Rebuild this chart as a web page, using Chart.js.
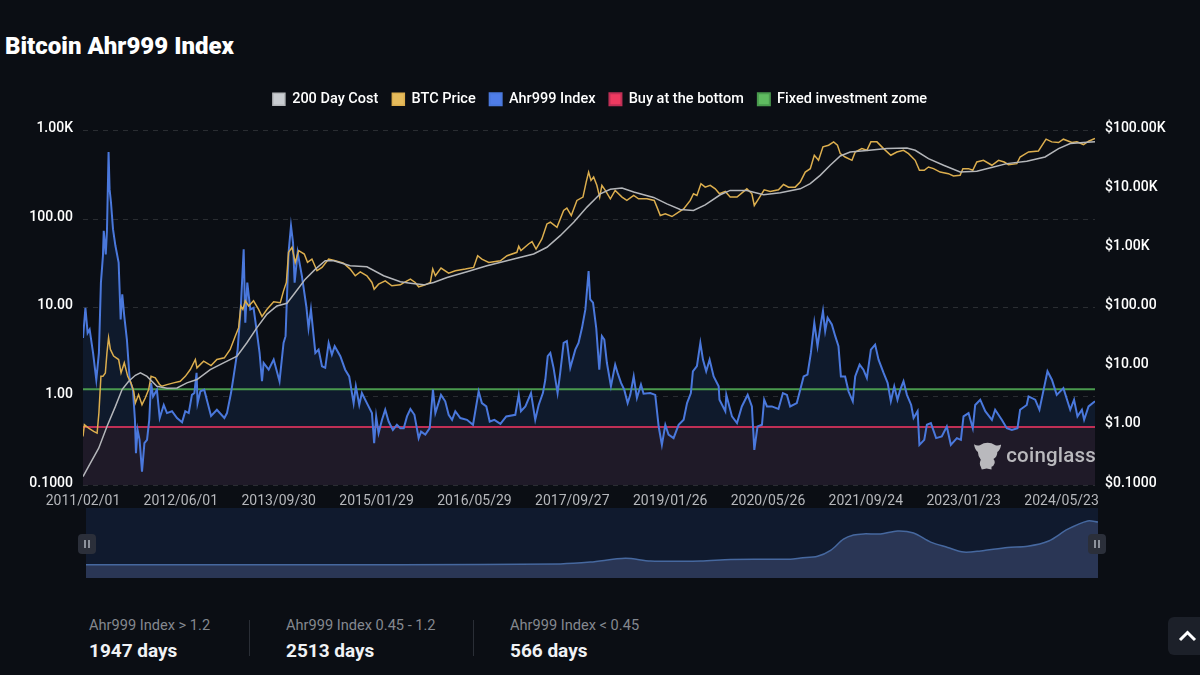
<!DOCTYPE html>
<html>
<head>
<meta charset="utf-8">
<title>Bitcoin Ahr999 Index</title>
<script src="https://cdn.jsdelivr.net/npm/chart.js@4/dist/chart.umd.min.js"></script>
<style>
    html, body { margin: 0; padding: 0; background: #0b0e14; }
    body { position: relative; width: 1200px; height: 675px; overflow: hidden; font-family: Roboto, sans-serif; color: #fff; }
    h1 { position: absolute; left: 5px; top: 32px; margin: 0; font-size: 24px; line-height: 28px; font-weight: 900; }
    #mainWrap { position: absolute; left: 0; top: 0; width: 1200px; height: 510px; }
    #navBack { position: absolute; left: 86px; top: 508px; width: 1012px; height: 70px; background: #101a2e; }
    #navWrap { position: absolute; left: 0; top: 0; width: 1012px; height: 70px; }
    .handle { position: absolute; top: 534px; width: 18px; height: 20px; background: #2b2f3a; border-radius: 4px; }
    .handle:before { content: ''; position: absolute; left: 6px; top: 6px; width: 2px; height: 8px; background: #8d929c; box-shadow: 4px 0 0 #8d929c; }
    .stat { position: absolute; top: 616px; }
    .stat .name { font-size: 14.6px; line-height: 18px; color: #84888f; }
    .stat .val { font-size: 19px; line-height: 24px; font-weight: 700; margin-top: 5px; color: #f0f2f5; }
    .sep { position: absolute; top: 620px; width: 1px; height: 36px; background: #2a2e36; }
    #toTop { position: absolute; left: 1168px; top: 617px; width: 32px; height: 38px; background: #1c2029; border-radius: 6px 0 0 6px; }
    #mark { position: absolute; left: 974px; top: 439px; width: 122px; height: 32px; display: flex; align-items: center; pointer-events: none; }
    #mark span { font-size: 20.5px; font-weight: 500; color: #b9b9bd; margin-left: 5px; letter-spacing: 0.2px; }
</style>
</head>
<body>
<h1>Bitcoin Ahr999 Index</h1>
<div id="mainWrap"><canvas id="mainChart"></canvas></div>
<div id="mark">
    <svg width="28" height="31" viewBox="0 0 28 31"><path fill="#b9b9bd" d="M0 4 Q3 6 6 5 Q14 0 22 5 Q25 6 28 4 Q27 10 24 12 Q24 17 20 19 Q22 21 21 24 Q20 27 18 27 L18 30 L13 29 L8 30 L7 27 Q5 24 7 20 Q4 16 4 12 Q1 10 0 4 Z"/></svg>
    <span>coinglass</span>
</div>
<div id="navBack"><div id="navWrap"><canvas id="navChart"></canvas></div></div>
<div class="handle" style="left:78px"></div>
<div class="handle" style="left:1088px"></div>
<div class="stat" style="left:89px"><div class="name">Ahr999 Index &gt; 1.2</div><div class="val">1947 days</div></div>
<div class="sep" style="left:249px"></div>
<div class="stat" style="left:286px"><div class="name">Ahr999 Index 0.45 - 1.2</div><div class="val">2513 days</div></div>
<div class="sep" style="left:473px"></div>
<div class="stat" style="left:510px"><div class="name">Ahr999 Index &lt; 0.45</div><div class="val">566 days</div></div>
<div id="toTop"><svg width="32" height="38" viewBox="0 0 32 38"><path d="M12 23 L19.5 15.5 L27 23" fill="none" stroke="#fff" stroke-width="3"/></svg></div>

<script>
// x positions are days since 2011/02/01
const tickDays = [0, 486, 972, 1458, 1944, 2430, 2916, 3402, 3888, 4374, 4860];
const tickLabels = ['2011/02/01', '2012/06/01', '2013/09/30', '2015/01/29', '2016/05/29', '2017/09/27', '2019/01/26', '2020/05/26', '2021/09/24', '2023/01/23', '2024/05/23'];
const indexTicks = [0.1, 1, 10, 100, 1000];
const priceTicks = [0.1, 1, 10, 100, 1000, 10000, 100000];

const indexDays = [0,12,23,33,50,66,79,89,99,103,113,119,127,132,139,149,161,177,187,195,205,218,232,248,258,263,271,281,293,305,318,329,338,348,367,381,401,417,442,467,492,508,525,541,553,564,569,583,602,636,665,702,715,735,748,768,784,798,806,816,831,847,864,877,889,897,922,947,976,996,1006,1021,1033,1043,1051,1066,1087,1109,1120,1132,1154,1170,1187,1203,1220,1236,1250,1278,1302,1322,1344,1355,1372,1385,1410,1435,1446,1456,1468,1485,1501,1518,1539,1559,
    1576,1593,1609,1626,1646,1667,1679,1700,1722,1738,1750,1778,1799,1816,1833,1849,1874,1907,1937,1965,1981,2003,2020,2043,2073,2102,2147,2164,2175,2197,2225,2246,2263,2284,2296,2308,2321,2337,2357,2370,2387,2403,2420,2445,2461,2478,2495,2511,2519,2533,2549,2564,2577,2589,2602,2622,2643,2655,2672,2688,2705,2718,2735,2751,2771,2784,2817,2842,2859,2875,2892,2908,2933,2958,2983,3000,3019,3029,3049,3066,3079,3095,3112,3132,3157,3161,3190,3195,3223,3248,3272,3301,3322,3334,3350,3372,3383,3397,3421,3454,3476,3496,3512,3545,
    3562,3579,3598,3615,3632,3648,3665,3675,3686,3698,3719,3736,3752,3764,3785,3802,3823,3835,3857,3876,3893,3913,3934,3951,3976,3996,4012,4029,4045,4059,4075,4092,4113,4125,4145,4154,4178,4191,4211,4237,4265,4290,4310,4340,4360,4373,4398,4419,4431,4456,4481,4514,4530,4563,4588,4613,4641,4654,4687,4696,4729,4750,4778,4790,4812,4836,4869,4903,4922,4939,4961,4972,4994,5026];
const indexValues = [4.57,10,5.2,5.69,3.09,1.54,3.09,19.2,38.5,73.9,40,73.9,570,218,154,77,50,32.4,7.38,14.2,8.05,4.38,1.54,1.19,0.544,0.228,0.419,0.323,0.141,0.296,0.323,0.544,1.42,1,1.19,0.57,0.8,0.648,0.68,0.57,0.51,0.68,0.648,1.04,1.09,1.84,0.84,1.14,1.19,0.6,0.706,0.57,0.648,1.09,1.68,3.37,10.4,45.8,6.76,19.2,9.58,10,5.2,3.09,1.48,2.38,2,2.6,1.48,4.01,4.78,42,84,54.5,19.2,42,22.9,10.4,5.9,9.58,3.09,3.37,2.19,2.1,4.01,2.96,3.68,2.84,2,1.68,0.84,1.3,0.8,1.09,0.84,0.648,0.296,0.594,0.385,0.544,0.706,0.52,0.419,0.478,
    0.438,0.438,0.594,0.72,0.62,0.338,0.4,0.37,0.438,1.19,0.648,1.04,0.88,0.62,0.544,0.68,0.57,0.544,0.478,1.14,0.84,0.77,0.52,0.544,0.49,0.594,0.62,1.04,0.68,0.77,1.09,0.544,0.8,1.09,1.54,2.84,3.09,2.1,1.09,1.84,4.01,4.2,2.1,3.37,4.01,5.9,9.58,26,12.4,11.4,5.9,2,4.78,4.38,2.38,1.3,2.28,1.84,1.42,1.19,0.84,1.04,1.68,0.96,1.36,1.07,1.09,1.04,0.457,0.284,0.478,0.37,0.338,0.478,0.544,0.84,1.09,1.92,2.19,4.01,2.6,1.92,2.6,1.68,1.3,0.917,0.68,1.04,0.594,0.5,0.77,1.04,0.77,0.249,0.457,0.478,0.917,0.77,0.77,0.72,1.09,1.04,0.77,0.84,
    1.19,1.68,1.76,3.09,6.76,3.68,6.76,9.2,5.45,7.7,6.47,4.78,3.68,1.68,1.68,1.14,0.88,1.68,2.28,2,1.61,3.37,3.84,2.6,1.84,1.42,0.88,1.3,0.917,1.19,1.48,1.04,0.8,0.57,0.68,0.284,0.323,0.478,0.5,0.338,0.353,0.457,0.284,0.338,0.323,0.594,0.648,0.438,0.8,0.917,0.68,0.544,0.706,0.544,0.438,0.419,0.438,0.706,0.8,1,0.917,0.706,1.42,1.92,1.54,1.04,1.24,0.706,0.917,0.594,0.706,0.544,0.77,0.88];

const priceDays = [0,7,28,53,70,79,89,99,111,119,127,136,152,177,189,205,222,238,252,260,276,293,309,326,338,359,381,392,417,450,483,508,533,558,566,599,636,665,702,731,756,773,784,794,806,823,847,872,889,914,947,980,996,1010,1021,1038,1054,1071,1099,1115,1137,1162,1187,1220,1253,1294,1327,1352,1377,1410,1435,1446,1468,1501,1534,1576,
    1596,1626,1650,1667,1700,1725,1737,1750,1778,1816,1849,1899,1940,1960,1981,2015,2073,2106,2155,2164,2175,2213,2230,2250,2279,2304,2321,2354,2387,2403,2425,2453,2483,2499,2511,2523,2536,2552,2566,2577,2594,2619,2643,2677,2701,2735,2759,2801,2837,2854,2867,2892,2925,2958,2983,3016,3032,3049,3069,3090,3115,3140,3161,3190,3214,3248,3297,3322,3334,3355,3383,3413,3454,3479,3504,3537,3562,
    3587,3612,3632,3653,3675,3703,3728,3747,3761,3785,3819,3835,3868,3893,3913,3943,3976,4012,4042,4075,4100,4133,4154,4178,4199,4224,4257,4298,4323,4356,4370,4398,4419,4439,4472,4514,4547,4575,4596,4638,4654,4696,4745,4783,4811,4845,4869,4911,4936,4969,4994,5026];
const priceValues = [0.664,1.05,0.92,0.81,0.756,1.65,6.9,6.9,7.9,17.3,31,19.7,15.2,13.3,7.9,11.7,6.9,5.35,3.85,2.44,3.39,2.29,2.97,4.12,6.9,6.5,5,4.69,5,5.35,5.7,6.9,9,13.3,9.6,12.5,10.5,13.3,14.2,19.7,33,46,107,94,131,107,131,94,71,94,126,122,193,268,867,1055,586,925,811,586,667,423,482,667,625,570,451,348,406,348,268,206,251,286,235,244,
    268,305,268,226,244,268,451,348,469,385,423,451,482,760,667,586,625,760,867,1096,925,1200,1315,986,1460,2620,2800,2300,4430,4850,3640,6550,7470,13400,19800,14300,16300,11800,7470,11800,9680,6980,9680,7470,6550,7960,6980,6980,6550,4720,3640,3880,3500,4150,4720,6550,8490,7960,12600,11000,11800,10300,8490,9310,7470,7470,10300,8490,5380,6980,9930,9310,9930,12200,11000,11000,13400,
    19800,22600,38100,31300,52800,56300,64200,56300,40600,35600,31300,43300,49400,46300,64200,64200,49400,38100,43300,46300,40600,31300,21200,21200,24100,22600,19800,18600,17000,17400,22600,22600,21200,29300,31300,25800,31300,29300,26400,27500,35600,43300,45100,71300,64200,62500,71300,62500,64200,57800,65900,73100];

const costDays = [0,36,78,119,161,194,227,260,285,318,367,417,467,516,566,632,698,765,814,864,914,963,1013,1054,1104,1154,1203,1245,1327,1410,1493,1576,1626,1692,1741,1808,1907,2006,2139,2238,2304,2370,2437,2503,2569,2619,2677,2735,2834,2900,2966,3032,3090,3165,3214,3297,3380,3463,3562,3612,3661,3711,3761,3810,3893,3992,4092,4133,4199,4274,4356,4439,4522,4588,4687,4778,4845,4903,4969,5026];
const costValues = [0.139,0.233,0.42,0.98,2.14,4.12,5.7,7.2,7.9,6.9,4.69,4.33,4.4,5.35,6.1,9,11.7,15.2,25.6,46,78,107,119,181,305,451,625,625,514,494,348,275,261,244,268,326,406,514,667,811,1055,1660,2800,5050,8490,10100,10600,9080,7360,5740,4600,4430,5520,8170,9680,9680,8170,8830,10300,12600,17400,25800,37100,43300,45700,49400,50700,46300,33400,25800,19800,20400,24100,27500,30100,35600,49400,60100,62500,64200];

const navDays = [0,1560,2356,2505,2679,2803,3052,3201,3499,3549,3633,3698,3762,3812,3862,3946,4031,4110,4195,4279,4359,4443,4577,4677,4781,4876,4975,5026];
const navValues = [500,600,2000,5000,11500,7000,7000,9500,10000,12000,15000,25000,44000,51000,53000,53000,58000,54500,39000,30000,22000,24000,30000,32000,41000,61000,75000,73000];

const buyLevel = 0.45;
const fixedLevel = 1.2;
const lastDay = 5026;

function toPoints(days, values) {
    return days.map(function (d, i) { return { x: d, y: values[i] }; });
}

function fmtAxis(v) {
    if (v >= 1000) return (v / 1000).toFixed(2) + 'K';
    if (v < 1) return v.toFixed(4);
    return v.toFixed(2);
}

// Extra room between the legend and the plot
const legendGap = {
    id: 'legendGap',
    beforeInit: function (chart) {
        const fit = chart.legend.fit;
        chart.legend.fit = function () {
            fit.call(this);
            this.height += 14;
        };
    }
};

const mainCtx = document.getElementById('mainChart');
new Chart(mainCtx, {
    type: 'line',
    plugins: [legendGap],
    data: {
        datasets: [
            {
                label: '200 Day Cost',
                data: toPoints(costDays, costValues),
                yAxisID: 'yPrice',
                borderColor: '#b4b6ba',
                backgroundColor: '#c9ccd1',
                borderWidth: 1.5,
                pointRadius: 0,
                fill: false
            },
            {
                label: 'BTC Price',
                data: toPoints(priceDays, priceValues),
                yAxisID: 'yPrice',
                borderColor: '#dcae4e',
                backgroundColor: '#e6bb5c',
                borderWidth: 1.5,
                pointRadius: 0,
                fill: false
            },
            {
                label: 'Ahr999 Index',
                data: toPoints(indexDays, indexValues),
                yAxisID: 'yIndex',
                borderColor: '#4a78dc',
                backgroundColor: '#4f7de8',
                borderWidth: 2,
                pointRadius: 0,
                fill: { target: { value: buyLevel }, above: '#0f1a2c', below: 'rgba(0,0,0,0)' }
            },
            {
                label: 'Buy at the bottom',
                data: [{ x: 0, y: buyLevel }, { x: lastDay, y: buyLevel }],
                yAxisID: 'yIndex',
                borderColor: '#bf2f55',
                backgroundColor: '#ee3a60',
                borderWidth: 2,
                pointRadius: 0,
                fill: { target: 'start', above: '#1f1a28', below: '#1f1a28' }
            },
            {
                label: 'Fixed investment zome',
                data: [{ x: 0, y: fixedLevel }, { x: lastDay, y: fixedLevel }],
                yAxisID: 'yIndex',
                borderColor: '#4a9a4e',
                backgroundColor: '#5fbb60',
                borderWidth: 2,
                pointRadius: 0,
                fill: false
            }
        ]
    },
    options: {
        responsive: true,
        maintainAspectRatio: false,
        animation: false,
        layout: { padding: { top: 78, left: 0, right: 0, bottom: 0 } },
        plugins: {
            filler: { drawTime: 'beforeDatasetsDraw' },
            tooltip: { enabled: false },
            legend: {
                position: 'top',
                labels: {
                    color: '#ffffff',
                    font: { family: 'Roboto', size: 14.5, weight: '500' },
                    boxWidth: 12,
                    boxHeight: 12,
                    padding: 14
                }
            }
        },
        scales: {
            x: {
                type: 'linear',
                min: 0,
                max: lastDay,
                afterBuildTicks: function (axis) {
                    axis.ticks = tickDays.map(function (d) { return { value: d }; });
                },
                afterFit: function (axis) { axis.height = 25; },
                grid: { display: false, drawTicks: false },
                border: { display: false },
                ticks: {
                    autoSkip: false,
                    maxRotation: 0,
                    padding: 8,
                    color: '#b5b7bb',
                    font: { family: 'Roboto', size: 14 },
                    callback: function (value) {
                        return tickLabels[tickDays.indexOf(value)];
                    }
                }
            },
            yIndex: {
                type: 'logarithmic',
                position: 'left',
                min: 0.1,
                max: 1000,
                afterBuildTicks: function (axis) {
                    axis.ticks = indexTicks.map(function (v) { return { value: v }; });
                },
                afterFit: function (axis) { axis.width = 83; },
                grid: { color: 'rgba(255,255,255,0.13)', drawTicks: false },
                border: { display: false, dash: [5, 5] },
                ticks: {
                    padding: 10,
                    labelOffset: -2,
                    color: '#ffffff',
                    font: { family: 'Roboto', size: 14, weight: '500' },
                    callback: function (value) { return fmtAxis(value); }
                }
            },
            yPrice: {
                type: 'logarithmic',
                position: 'right',
                min: 0.1,
                max: 100000,
                afterBuildTicks: function (axis) {
                    axis.ticks = priceTicks.map(function (v) { return { value: v }; });
                },
                afterFit: function (axis) { axis.width = 105; },
                grid: { display: false, drawTicks: false },
                border: { display: false },
                ticks: {
                    padding: 10,
                    labelOffset: -2,
                    color: '#ffffff',
                    font: { family: 'Roboto', size: 14, weight: '500' },
                    callback: function (value) { return '$' + fmtAxis(value); }
                }
            }
        }
    }
});

// Range slider overview below the main chart
const navCtx = document.getElementById('navChart');
new Chart(navCtx, {
    type: 'line',
    data: {
        datasets: [{
            data: toPoints(navDays, navValues),
            borderColor: '#46689f',
            backgroundColor: '#2a3655',
            borderWidth: 1.5,
            pointRadius: 0,
            tension: 0.3,
            fill: 'start'
        }]
    },
    options: {
        responsive: true,
        maintainAspectRatio: false,
        animation: false,
        plugins: { legend: { display: false }, tooltip: { enabled: false } },
        scales: {
            x: { type: 'linear', display: false, min: 0, max: lastDay },
            y: { display: false, min: -22000, max: 97000 }
        }
    }
});
</script>
</body>
</html>
